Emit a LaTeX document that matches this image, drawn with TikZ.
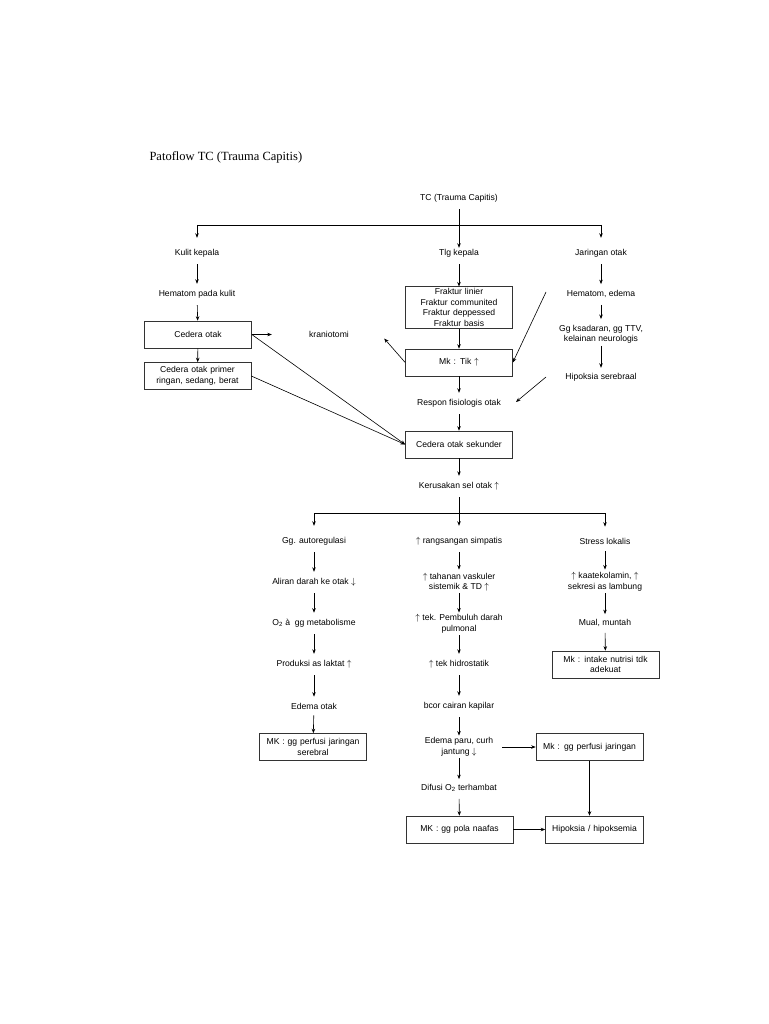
\documentclass[tikz,border=0pt]{standalone}
\usepackage{fontspec}
\setmainfont{Liberation Sans}
\newfontfamily\serifo{Liberation Serif}
\usetikzlibrary{arrows.meta}
\begin{document}
\begin{tikzpicture}[x=1pt,y=-1pt,
  t/.style={font=\fontsize{8.6}{13.5}\selectfont,align=center,inner sep=1pt},
  bx/.style={t,draw=black!80,line width=0.6pt,minimum height=27pt,text width=#1,inner sep=1.5pt},
  bx/.default=104pt,
  arr/.style={-{Stealth[length=4.5pt,width=3.5pt]},line width=0.6pt},
  ln/.style={line width=0.6pt},
  dn/.style={arr,shorten <=6pt,shorten >=5pt}]
\useasboundingbox (0,0) rectangle (768,1024);
\node[font=\serifo\fontsize{12.5}{14}\selectfont,anchor=west] (title) at (146,157) {Patoflow TC (Trauma Capitis)};
% top
\node[t] (tc) at (459,198) {TC (Trauma Capitis)};
\coordinate (j1) at (459,225);
\coordinate (j1l) at (197,225);
\coordinate (j1r) at (601,225);
\node[t] (kulit) at (197,253) {Kulit kepala};
\node[t] (tlg) at (459,253) {Tlg kepala};
\node[t] (jar) at (601,253) {Jaringan otak};
\draw[ln] (tc) ++(0,14) coordinate (tcb);
\draw[arr,shorten <=6pt] (tc) -- (tlg);
\draw[ln] (j1l) -- (j1r);
\draw[arr,shorten >=10pt] (j1l) -- (kulit);
\draw[arr,shorten >=10pt] (j1r) -- (jar);
\node[t] (hkulit) at (197,294) {Hematom pada kulit};
\node[bx] (frak) at (459,307.5) {Fraktur linier\\[-2.8pt]Fraktur communited\\[-2.8pt]Fraktur deppessed\\[-2.8pt]Fraktur basis};
\node[t] (hed) at (601,294) {Hematom, edema};
\draw[dn] (kulit) -- (hkulit);
\draw[arr,shorten <=6pt] (tlg) -- (frak);
\draw[dn] (jar) -- (hed);
\node[bx] (ced) at (198,334.5) {Cedera otak};
\node[bx] (prim) at (197.5,376) {Cedera otak primer\\[-3pt]ringan, sedang, berat};
\node[t] (kran) at (329,334) {kraniotomi};
\node[bx] (tik) at (459,362.5) {Mk : Tik $\uparrow$};
\node[t] (gg) at (601,334.5) {Gg ksadaran, gg TTV,\\[-3pt]kelainan neurologis};
\node[t] (hip) at (601,377) {Hipoksia serebraal};
\draw[arr,shorten <=6pt] (hkulit) -- (ced);
\draw[arr] (ced) -- (prim);
\draw[arr] (ced.east) -- ++(20,0) coordinate (kr);
\draw[arr] (tik.west) -- ++(-21,-24) coordinate (tk);
\draw[arr] (frak) -- (tik);
\draw[dn] (hed) -- (gg);
\draw[arr,shorten <=1pt,shorten >=4pt] (gg) -- (hip);
\coordinate (s1) at (546,292);
\draw[arr] (s1) -- (tik.east);
\node[t] (resp) at (459,403) {Respon fisiologis otak};
\coordinate (s2) at (546,377);
\draw[arr] (s2) -- (516,402);
\draw[arr,shorten >=5pt] (tik) -- (resp);
\node[bx] (sek) at (459,444.5) {Cedera otak sekunder};
\draw[arr,shorten <=6pt] (resp) -- (sek);
\draw[arr] (ced.east) -- (sek.west);
\draw[arr] (prim.east) -- (sek.west);
\node[t] (ker) at (459,486) {Kerusakan sel otak $\uparrow$};
\draw[arr,shorten >=5pt] (sek) -- (ker);
% lower split
\coordinate (j2l) at (314,513);
\coordinate (j2r) at (605,513);
\node[t] (auto) at (314,541) {Gg. autoregulasi};
\node[t] (simp) at (459,541) {$\uparrow$ rangsangan simpatis};
\node[t] (stress) at (605,541) {Stress lokalis};
\draw[arr,shorten <=6pt,shorten >=10pt] (ker) -- (simp);
\draw[ln] (j2l) -- (j2r);
\draw[arr,shorten >=10pt] (j2l) -- (auto);
\draw[arr,shorten >=10pt] (j2r) -- (stress);
\node[t] (alir) at (314,582) {Aliran darah ke otak $\downarrow$};
\node[t] (tah) at (459,582) {$\uparrow$ tahanan vaskuler\\[-3pt]sistemik \& TD $\uparrow$};
\node[t] (kat) at (605,582) {$\uparrow$ kaatekolamin, $\uparrow$\\[-3pt]sekresi as lambung};
\draw[dn] (auto) -- (alir);
\draw[dn,shorten >=2pt] (simp) -- (tah);
\draw[dn,shorten >=2pt] (stress) -- (kat);
\node[t] (o2) at (314,623) {O\textsubscript{2} à\ \ gg metabolisme};
\node[t] (tek) at (459,624) {$\uparrow$ tek. Pembuluh darah\\[-3pt]pulmonal};
\node[t] (mual) at (605,623) {Mual, muntah};
\draw[dn] (alir) -- (o2);
\draw[arr,shorten <=1pt,shorten >=1pt] (tah) -- (tek);
\draw[arr,shorten <=1pt,shorten >=4pt] (kat) -- (mual);
\node[t] (prod) at (314,664) {Produksi as laktat $\uparrow$};
\node[t] (hid) at (459,664) {$\uparrow$ tek hidrostatik};
\node[bx] (intake) at (605.5,664.5) {Mk : intake nutrisi tdk\\[-3pt]adekuat};
\draw[dn] (o2) -- (prod);
\draw[arr,shorten <=1pt,shorten >=5pt] (tek) -- (hid);
\draw[arr,shorten <=5pt] (mual) -- (intake);
\node[t] (edo) at (314,706) {Edema otak};
\node[t] (bcor) at (459,706) {bcor cairan kapilar};
\draw[dn] (prod) -- (edo);
\draw[dn] (hid) -- (bcor);
\node[bx] (mk1) at (313,747) {MK : gg perfusi jaringan\\[-3pt]serebral};
\node[t] (edp) at (459,747) {Edema paru, curh\\[-3pt]jantung $\downarrow$};
\node[bx] (mk2) at (589.5,747) {Mk : gg perfusi jaringan};
\draw[arr,shorten <=5pt] (edo) -- (mk1);
\draw[dn,shorten >=1pt] (bcor) -- (edp);
\draw[arr,shorten <=8pt] (edp.east) -- (mk2.west);
\node[t] (dif) at (459,788) {Difusi O\textsubscript{2} terhambat};
\draw[arr,shorten <=1pt,shorten >=4pt] (edp) -- (dif);
\node[bx] (pola) at (459.5,829.5) {MK : gg pola naafas};
\node[bx=95pt] (hipok) at (594.5,829.5) {Hipoksia / hipoksemia};
\draw[arr,shorten <=6pt] (dif) -- (pola);
\draw[arr] (pola) -- (hipok);
\draw[arr] (mk2) -- (mk2 |- hipok.north);
\end{tikzpicture}
\end{document}
